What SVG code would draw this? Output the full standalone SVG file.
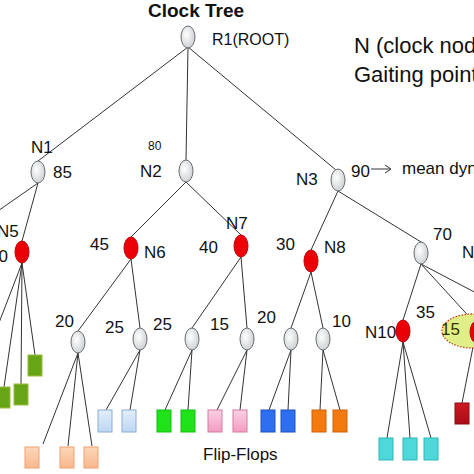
<svg xmlns="http://www.w3.org/2000/svg" width="474" height="474" viewBox="0 0 474 474">
<defs>
<radialGradient id="gg" cx="0.4" cy="0.4" r="0.7">
<stop offset="0" stop-color="#ffffff"/><stop offset="1" stop-color="#c8cacc"/>
</radialGradient>
<linearGradient id="fo" x1="0" y1="0" x2="0" y2="1"><stop offset="0" stop-color="#fcd6b8"/><stop offset="1" stop-color="#f7b88e"/></linearGradient>
<linearGradient id="fb" x1="0" y1="0" x2="0" y2="1"><stop offset="0" stop-color="#e2eefb"/><stop offset="1" stop-color="#bcd6f2"/></linearGradient>
<linearGradient id="fp" x1="0" y1="0" x2="0" y2="1"><stop offset="0" stop-color="#fbd0e2"/><stop offset="1" stop-color="#f29cc2"/></linearGradient>
<linearGradient id="fr" x1="0" y1="0" x2="0" y2="1"><stop offset="0" stop-color="#d01822"/><stop offset="1" stop-color="#a80e18"/></linearGradient>
</defs>
<style>
.t{font-family:"Liberation Sans",Arial,sans-serif;fill:#111;font-size:17px;}
.ln{stroke:#333;stroke-width:1;fill:none;}
.gray{fill:url(#gg);stroke:#6a6e72;stroke-width:1;}
.red{fill:#ec0008;stroke:#c00006;stroke-width:1;}
.og{fill:#67a416;stroke:#9cbc3c;}
.lo{fill:url(#fo);stroke:#f0a070;}
.lb{fill:url(#fb);stroke:#86acd8;}
.gr{fill:#1fe219;stroke:#14c00f;}
.pk{fill:url(#fp);stroke:#d47aa4;}
.bl{fill:#2e6ef0;stroke:#2050c0;}
.or{fill:#f27a0e;stroke:#d0620a;}
.cy{fill:#4fd8da;stroke:#2fb6b8;}
.dr{fill:url(#fr);stroke:#8a0c14;}
</style>

<text class="t" x="148" y="17" style="font-size:19px" font-weight="bold">Clock Tree</text>
<text class="t" x="212" y="45" style="font-size:16px">R1(ROOT)</text>
<text class="t" x="354" y="53" style="font-size:22px">N (clock node)</text>
<text class="t" x="354" y="82" style="font-size:22px">Gaiting point</text>

<g id="connectors">
<line class="ln" x1="188" y1="47" x2="38" y2="161"/>
<line class="ln" x1="188" y1="47" x2="186" y2="160"/>
<line class="ln" x1="188" y1="47" x2="336" y2="170"/>
<line class="ln" x1="38" y1="183" x2="-5" y2="213"/>
<line class="ln" x1="38" y1="183" x2="22" y2="241"/>
<line class="ln" x1="22" y1="263" x2="-3" y2="328"/>
<line class="ln" x1="22" y1="263" x2="4" y2="387"/>
<line class="ln" x1="22" y1="263" x2="21" y2="384"/>
<line class="ln" x1="22" y1="263" x2="35" y2="355"/>
<line class="ln" x1="186" y1="182" x2="131" y2="237"/>
<line class="ln" x1="186" y1="182" x2="241" y2="235"/>
<line class="ln" x1="131" y1="259" x2="78" y2="331"/>
<line class="ln" x1="131" y1="259" x2="140" y2="328"/>
<line class="ln" x1="241" y1="257" x2="192" y2="328"/>
<line class="ln" x1="241" y1="257" x2="247" y2="328"/>
<line class="ln" x1="338" y1="191" x2="311" y2="250"/>
<line class="ln" x1="338" y1="191" x2="421" y2="242"/>
<line class="ln" x1="311" y1="272" x2="291" y2="328"/>
<line class="ln" x1="311" y1="272" x2="323" y2="328"/>
<line class="ln" x1="421" y1="264" x2="403" y2="320"/>
<line class="ln" x1="421" y1="264" x2="474" y2="322"/>
<line class="ln" x1="421" y1="264" x2="480" y2="295"/>
<line class="ln" x1="78" y1="353" x2="43" y2="444"/>
<line class="ln" x1="78" y1="353" x2="68" y2="446"/>
<line class="ln" x1="78" y1="353" x2="92" y2="446"/>
<line class="ln" x1="140" y1="350" x2="106" y2="410"/>
<line class="ln" x1="140" y1="350" x2="130" y2="410"/>
<line class="ln" x1="192" y1="350" x2="165" y2="410"/>
<line class="ln" x1="192" y1="350" x2="188" y2="410"/>
<line class="ln" x1="247" y1="350" x2="217" y2="410"/>
<line class="ln" x1="247" y1="350" x2="240" y2="410"/>
<line class="ln" x1="291" y1="350" x2="269" y2="410"/>
<line class="ln" x1="291" y1="350" x2="288" y2="410"/>
<line class="ln" x1="323" y1="350" x2="320" y2="410"/>
<line class="ln" x1="323" y1="350" x2="340" y2="410"/>
<line class="ln" x1="403" y1="342" x2="387" y2="438"/>
<line class="ln" x1="403" y1="342" x2="410" y2="438"/>
<line class="ln" x1="403" y1="342" x2="431" y2="438"/>
<line class="ln" x1="474" y1="342" x2="462" y2="403"/>
<line class="ln" x1="371" y1="169" x2="390" y2="169"/>
<polyline class="ln" points="385,165 391,169 385,173"/>
</g>

<g id="R1"><ellipse class="gray" cx="188" cy="37" rx="7" ry="11"/></g>
<g id="N1"><ellipse class="gray" cx="38" cy="172" rx="7" ry="11"/>
<text class="t" x="31" y="153">N1</text><text class="t" x="53" y="178">85</text></g>
<g id="N2"><ellipse class="gray" cx="186" cy="171" rx="7" ry="11"/>
<text class="t" x="140" y="177">N2</text><text class="t" x="148" y="150" style="font-size:12px">80</text></g>
<g id="N3"><ellipse class="gray" cx="338" cy="180" rx="7" ry="11"/>
<text class="t" x="296" y="185">N3</text><text class="t" x="351" y="177">90</text>
<text class="t" x="402" y="174">mean dynamic power</text></g>
<g id="N5"><ellipse class="red" cx="22" cy="252" rx="7" ry="11"/>
<text class="t" x="-3" y="237">N5</text><text class="t" x="8" y="262" text-anchor="end">40</text></g>
<g id="N6"><ellipse class="red" cx="131" cy="248" rx="7" ry="11"/>
<text class="t" x="144" y="258">N6</text><text class="t" x="90" y="250">45</text></g>
<g id="N7"><ellipse class="red" cx="241" cy="246" rx="7" ry="11"/>
<text class="t" x="226" y="229">N7</text><text class="t" x="199" y="253">40</text></g>
<g id="N8"><ellipse class="red" cx="311" cy="261" rx="7" ry="11"/>
<text class="t" x="324" y="253">N8</text><text class="t" x="276" y="250">30</text></g>
<g id="N9"><ellipse class="gray" cx="421" cy="253" rx="7" ry="11"/>
<text class="t" x="433" y="240">70</text><text class="t" x="462" y="258">N9</text></g>
<g id="N10"><ellipse class="red" cx="403" cy="331" rx="7" ry="11"/>
<text class="t" x="365" y="338">N10</text><text class="t" x="416" y="318">35</text></g>
<g id="N11"><ellipse cx="472" cy="331" rx="30" ry="17" fill="#e0ee88" stroke="#c0401a" stroke-width="1.3" stroke-dasharray="1.5,1.5"/>
<ellipse class="red" cx="477" cy="332" rx="7" ry="11"/>
<text class="t" x="441" y="335" style="fill:#333300">15</text></g>

<g id="A"><ellipse class="gray" cx="78" cy="342" rx="7" ry="11"/><text class="t" x="55" y="327">20</text></g>
<g id="B"><ellipse class="gray" cx="140" cy="339" rx="7" ry="11"/><text class="t" x="105" y="333">25</text></g>
<g id="C"><ellipse class="gray" cx="192" cy="339" rx="7" ry="11"/><text class="t" x="153" y="330">25</text></g>
<g id="D"><ellipse class="gray" cx="247" cy="339" rx="7" ry="11"/><text class="t" x="210" y="330">15</text></g>
<g id="E"><ellipse class="gray" cx="291" cy="339" rx="7" ry="11"/><text class="t" x="257" y="323">20</text></g>
<g id="F"><ellipse class="gray" cx="323" cy="339" rx="7" ry="11"/><text class="t" x="332" y="327">10</text></g>

<g id="flipflops">
<rect class="og" x="-4" y="387" width="14" height="21"/>
<rect class="og" x="14" y="384" width="14" height="21"/>
<rect class="og" x="28" y="355" width="14" height="21"/>
<rect class="lo" x="25" y="447" width="14" height="21"/>
<rect class="lo" x="60" y="447" width="14" height="21"/>
<rect class="lo" x="84" y="447" width="14" height="21"/>
<rect class="lb" x="98" y="410" width="14" height="22"/>
<rect class="lb" x="122" y="410" width="14" height="22"/>
<rect class="gr" x="157" y="410" width="14" height="22"/>
<rect class="gr" x="181" y="410" width="14" height="22"/>
<rect class="pk" x="208" y="410" width="14" height="22"/>
<rect class="pk" x="233" y="410" width="14" height="22"/>
<rect class="bl" x="261" y="410" width="14" height="22"/>
<rect class="bl" x="281" y="410" width="14" height="22"/>
<rect class="or" x="312" y="410" width="14" height="22"/>
<rect class="or" x="333" y="410" width="14" height="22"/>
<rect class="cy" x="379" y="438" width="14" height="22"/>
<rect class="cy" x="403" y="438" width="14" height="22"/>
<rect class="cy" x="424" y="438" width="14" height="22"/>
<rect class="dr" x="455" y="403" width="14" height="21"/>
<text class="t" x="203" y="460">Flip-Flops</text>
</g>
</svg>
